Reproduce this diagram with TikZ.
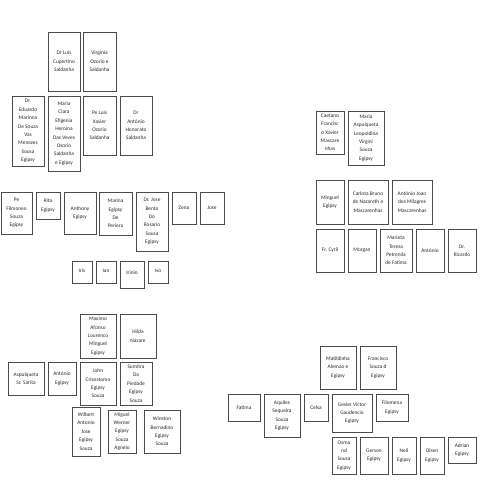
\documentclass[tikz,border=0pt]{standalone}
\usepackage{xcolor}
\usepackage{fontspec}
\setmainfont{Carlito}
\usepackage{tikz}

\begin{document}
\begin{tikzpicture}[x=1bp, y=-1bp,
             box/.style={draw=black!70, line width=.9bp},
             lbl/.style={draw=none, inner sep=0, align=center, text=black!85,
                         font=\fontsize{5.4}{8.4}\selectfont}]
             \useasboundingbox (0,0) rectangle (480,480);

             % Saldanha family
             \draw[box] (48,32) rectangle (80,91);
             \node[lbl] (luis) at (64,61.5) {Dr Luis\\Cupertino\\Saldanha};
             \draw[box] (83,32) rectangle (116,91);
             \node[lbl] (virginia) at (99.5,61.5) {Virginia\\Ozorio e\\Saldanha};
             \draw[box] (12,96) rectangle (44,166);
             \node[lbl] (eduardo) at (28,131) {Dr.\\Eduardo\\Marinna\\De Souza\\Vas\\Menezes\\Sousa\\Egipsy};
             \draw[box] (48,96) rectangle (80,171);
             \node[lbl] (mariaclara) at (64,133.5) {Maria\\Clara\\Efigenia\\Heroina\\Das Veves\\Osorio\\Saldanha\\e Egipsy};
             \draw[box] (83,96) rectangle (116,155);
             \node[lbl] (peluis) at (99.5,125.5) {Pe Luis\\Xavier\\Ozorio\\Saldanha};
             \draw[box] (120,96) rectangle (152,155);
             \node[lbl] (honorato) at (136,125.5) {Dr\\António\\Honorato\\Saldanha};

             % Egipsy row
             \draw[box] (1,192) rectangle (32,234);
             \node[lbl] (filmoneo) at (16.5,213) {Pe\\Filmoneo\\Souza\\Egipsy};
             \draw[box] (36,192) rectangle (60,219);
             \node[lbl] (rita) at (48,205.5) {Rita\\Egipsy};
             \draw[box] (64,192) rectangle (96,234);
             \node[lbl] (anthony) at (80,213) {Anthony\\Egipsy};
             \draw[box] (99,192) rectangle (132,235);
             \node[lbl] (marina) at (115.5,213.5) {Marina\\Egipsy\\De\\Periera};
             \draw[box] (136,192) rectangle (168,251);
             \node[lbl] (josebento) at (152,221.5) {Dr. Jose\\Bento\\Do\\Rosario\\Sousa\\Egipsy};
             \draw[box] (172,192) rectangle (196,224);
             \node[lbl] (zena) at (184,208) {Zena};
             \draw[box] (200,192) rectangle (224,224);
             \node[lbl] (jose) at (212,208) {Jose};

             \draw[box] (72,261) rectangle (92,283);
             \node[lbl] (iris) at (82,271) {Iris};
             \draw[box] (96,261) rectangle (116,283);
             \node[lbl] (ian) at (106,271) {Ian};
             \draw[box] (120,261) rectangle (144,288);
             \node[lbl] (irinio) at (132,273) {Irinio};
             \draw[box] (148,261) rectangle (168,283);
             \node[lbl] (ivo) at (158,271) {Ivo};

             % Mascarenhas family
             \draw[box] (316,111) rectangle (344,154);
             \node[lbl] (caetano) at (330,132.5) {Caetano\\Francisc\\o Xavier\\Mascare\\nhas};
             \draw[box] (348,111) rectangle (384,165);
             \node[lbl] (aspulqueta) at (366,138) {Maria\\Aspulqueta\\Leopoldina\\Virgini\\Souza\\Egipsy};
             \draw[box] (316,180) rectangle (344,224);
             \node[lbl] (minguel) at (330,202) {Minguel\\Egipsy};
             \draw[box] (348,180) rectangle (388,224);
             \node[lbl] (carlota) at (368,202) {Carlota Bruno\\de Nazareth e\\Mascarenhas};
             \draw[box] (392,180) rectangle (432,224);
             \node[lbl] (antoniojoao) at (412,202) {António Joao\\dos Milagres\\Mascarenhas};
             \draw[box] (316,229) rectangle (344,272);
             \node[lbl] (cyril) at (330,250.5) {Fr. Cyril};
             \draw[box] (348,229) rectangle (376,272);
             \node[lbl] (morgan) at (362,250.5) {Morgan};
             \draw[box] (380,229) rectangle (412,272);
             \node[lbl] (marieta) at (396,250.5) {Marieta\\Teresa\\Petrenila\\de Fatima};
             \draw[box] (416,229) rectangle (444,272);
             \node[lbl] (antonio) at (430,250.5) {António};
             \draw[box] (448,229) rectangle (476,272);
             \node[lbl] (ricardo) at (462,250.5) {Dr.\\Ricardo};

             % Maximo family
             \draw[box] (80,314) rectangle (116,358);
             \node[lbl] (maximo) at (98,336) {Maximo\\Afonso\\Lourenco\\Minguel\\Egipsy};
             \draw[box] (120,314) rectangle (156,358);
             \node[lbl] (hilda) at (138,336) {Hilda\\Nazare};
             \draw[box] (8,362) rectangle (44,395);
             \node[lbl] (sarita) at (26,378.5) {Aspulqueta\\Sr. Sarita};
             \draw[box] (48,362) rectangle (76,395);
             \node[lbl] (antonioeg) at (62,378.5) {António\\Egipsy};
             \draw[box] (80,362) rectangle (116,405);
             \node[lbl] (john) at (98,383.5) {John\\Crisostomo\\Egipsy\\Souza};
             \draw[box] (120,362) rectangle (152,405);
             \node[lbl] (sumitra) at (136,383.5) {Sumitra\\Da\\Piedade\\Egipsy\\Souza};
             \draw[box] (72,407) rectangle (100,456);
             \node[lbl] (wilbert) at (86,431.5) {Wilbert\\Antonio\\Jose\\Egipsy\\Souza};
             \draw[box] (108,410) rectangle (136,453);
             \node[lbl] (miguel) at (122,431.5) {Miguel\\Werner\\Egipsy\\Souza\\Agnelo};
             \draw[box] (144,410) rectangle (180,453);
             \node[lbl] (winston) at (162,431.5) {Winston\\Bernadino\\Egipsy\\Souza};

             % Matildinha family
             \draw[box] (320,346) rectangle (356,389);
             \node[lbl] (matildinha) at (338,367.5) {Matildinha\\Alemao e\\Egipsy};
             \draw[box] (360,346) rectangle (396,389);
             \node[lbl] (francisco) at (378,367.5) {Francisco\\Souza d\\Egipsy};
             \draw[box] (228,394) rectangle (260,421);
             \node[lbl] (fatima) at (244,407.5) {Fatima};
             \draw[box] (264,394) rectangle (300,437);
             \node[lbl] (aquiles) at (282,415.5) {Aquiles\\Sequeira\\Souza\\Egipsy};
             \draw[box] (304,394) rectangle (328,421);
             \node[lbl] (celsa) at (316,407.5) {Celsa};
             \draw[box] (332,394) rectangle (372,432);
             \node[lbl] (gesler) at (352,413) {Gesler Victor\\Gaudencio\\Egipsy};
             \draw[box] (376,394) rectangle (408,421);
             \node[lbl] (filomena) at (392,407.5) {Filomena\\Egipsy};
             \draw[box] (332,437) rectangle (356,474);
             \node[lbl] (osmand) at (344,455.5) {Osma\\nd\\Sousa\\Egipsy};
             \draw[box] (360,437) rectangle (388,474);
             \node[lbl] (gerson) at (374,455.5) {Gerson\\Egipsy};
             \draw[box] (392,437) rectangle (416,474);
             \node[lbl] (neil) at (404,455.5) {Neil\\Egipsy};
             \draw[box] (420,437) rectangle (444,474);
             \node[lbl] (olsen) at (432,455.5) {Olsen\\Egipsy};
             \draw[box] (448,437) rectangle (476,463);
             \node[lbl] (adrian) at (462,450) {Adrian\\Egipsy};
             \end{tikzpicture}
\end{document}
